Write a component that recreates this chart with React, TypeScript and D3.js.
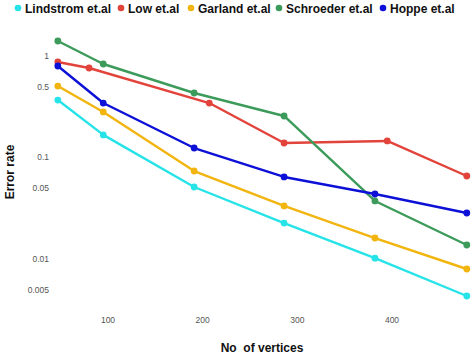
import React from "react";
import * as d3 from "d3";

const seriesNames = ["Lindstrom et.al", "Low et.al", "Garland et.al", "Schroeder et.al", "Hoppe et.al"];
const seriesColors = ["#26e3e8", "#e2433b", "#f2b50f", "#3c9b5a", "#0d10d6"];

const xCommon = [47, 95, 191, 286, 382, 479];
const xLow = [47, 80, 207, 286, 395, 479];

const lindstrom = [0.368, 0.167, 0.0512, 0.0226, 0.0102, 0.00432];
const low = [0.873, 0.762, 0.344, 0.139, 0.1455, 0.0657];
const garland = [0.506, 0.281, 0.0736, 0.0333, 0.0161, 0.00797];
const schroeder = [1.405, 0.834, 0.432, 0.2564, 0.0373, 0.01374];
const hoppe = [0.797, 0.344, 0.124, 0.0643, 0.0437, 0.0284];

const xTicks = [100, 200, 300, 400];
const yTicks = [1, 0.5, 0.1, 0.05, 0.01, 0.005];
const yTickLabels = ["1", "0.5", "0.1", "0.05", "0.01", "0.005"];

const W = 474;
const H = 358;

export default function App() {
  const x = d3.scaleLinear().domain([100, 400]).range([108, 392]);
  const y = d3.scaleLog().domain([1, 0.01]).range([56, 259]);

  const series = [
    { name: seriesNames[0], color: seriesColors[0], xs: xCommon, ys: lindstrom },
    { name: seriesNames[1], color: seriesColors[1], xs: xLow, ys: low },
    { name: seriesNames[2], color: seriesColors[2], xs: xCommon, ys: garland },
    { name: seriesNames[3], color: seriesColors[3], xs: xCommon, ys: schroeder },
    { name: seriesNames[4], color: seriesColors[4], xs: xCommon, ys: hoppe },
  ];

  const line = d3
    .line<[number, number]>()
    .x((d) => x(d[0]))
    .y((d) => y(d[1]));

  const legendX = [18, 121, 191, 279, 383];

  return (
    <svg
      width={W}
      height={H}
      style={{ position: "absolute", left: 0, top: 0, background: "#fff" }}
      fontFamily="'Liberation Sans', Arial, sans-serif"
    >
      <rect width={W} height={H} fill="#fff" />
      {/* legend */}
      {series.map((s, i) => (
        <g key={s.name}>
          <circle cx={legendX[i]} cy={8} r={3.3} fill={s.color} />
          <text x={legendX[i] + 7} y={12.5} fontSize={12} fontWeight="bold" fill="#111">
            {s.name}
          </text>
        </g>
      ))}
      {/* y tick labels */}
      {yTicks.map((t, i) => (
        <text
          key={t}
          x={49}
          y={y(t)}
          dy="0.35em"
          textAnchor="end"
          fontSize={8.5}
          fill="#555"
        >
          {yTickLabels[i]}
        </text>
      ))}
      {/* x tick labels */}
      {xTicks.map((t) => (
        <text key={t} x={x(t)} y={323} textAnchor="middle" fontSize={8.5} fill="#555">
          {t}
        </text>
      ))}
      {/* axis titles */}
      <text
        transform={`translate(14,172) rotate(-90)`}
        textAnchor="middle"
        fontSize={12}
        fontWeight="bold"
        fill="#111"
      >
        Error rate
      </text>
      <text x={262} y={352} textAnchor="middle" fontSize={12} fontWeight="bold" fill="#111" style={{ whiteSpace: "pre" }}>
        {"No  of vertices"}
      </text>
      {/* lines */}
      {series.map((s) => {
        const pts: [number, number][] = s.xs.map((xv, j) => [xv, s.ys[j]]);
        return (
          <g key={s.name}>
            <path d={line(pts) || ""} fill="none" stroke={s.color} strokeWidth={2.4} strokeLinejoin="round" />
            {pts.map((p, j) => (
              <circle key={j} cx={x(p[0])} cy={y(p[1])} r={3.4} fill={s.color} />
            ))}
          </g>
        );
      })}
    </svg>
  );
}
